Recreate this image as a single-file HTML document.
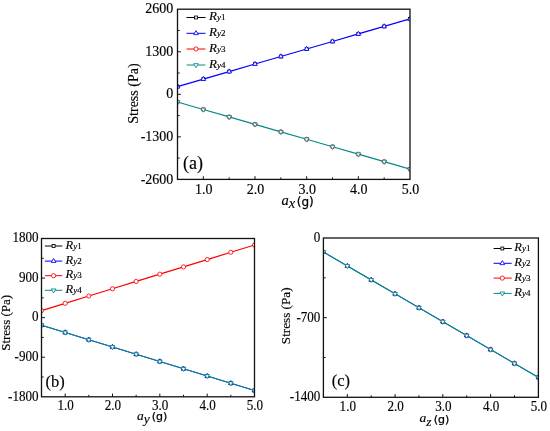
<!DOCTYPE html>
<html><head><meta charset="utf-8"><title>Stress vs acceleration</title>
<style>html,body{margin:0;padding:0;background:#fff;width:550px;height:431px;overflow:hidden}</style>
</head><body>
<svg width="550" height="431" viewBox="0 0 550 431" style="display:block;font-family:&quot;Liberation Serif&quot;,serif"><style>text{stroke:#000;stroke-width:0.15px;paint-order:stroke} text.g{stroke-width:0.25px}</style>
<rect width="550" height="431" fill="#fff"/>
<clipPath id="cpa"><rect x="177.5" y="9.2" width="232.5" height="170.20000000000002"/></clipPath>
<g clip-path="url(#cpa)">
<rect x="176.05" y="85.15" width="2.9" height="2.9" fill="#fff" stroke="#000000" stroke-width="0.85"/>
<rect x="201.88" y="77.63" width="2.9" height="2.9" fill="#fff" stroke="#000000" stroke-width="0.85"/>
<rect x="227.72" y="70.11" width="2.9" height="2.9" fill="#fff" stroke="#000000" stroke-width="0.85"/>
<rect x="253.55" y="62.58" width="2.9" height="2.9" fill="#fff" stroke="#000000" stroke-width="0.85"/>
<rect x="279.38" y="55.06" width="2.9" height="2.9" fill="#fff" stroke="#000000" stroke-width="0.85"/>
<rect x="305.22" y="47.54" width="2.9" height="2.9" fill="#fff" stroke="#000000" stroke-width="0.85"/>
<rect x="331.05" y="40.02" width="2.9" height="2.9" fill="#fff" stroke="#000000" stroke-width="0.85"/>
<rect x="356.88" y="32.49" width="2.9" height="2.9" fill="#fff" stroke="#000000" stroke-width="0.85"/>
<rect x="382.72" y="24.97" width="2.9" height="2.9" fill="#fff" stroke="#000000" stroke-width="0.85"/>
<rect x="408.55" y="17.45" width="2.9" height="2.9" fill="#fff" stroke="#000000" stroke-width="0.85"/>
<polyline fill="none" stroke="#0000ff" stroke-width="1.2" points="177.5,86.6 203.33,79.08 229.17,71.56 255,64.03 280.83,56.51 306.67,48.99 332.5,41.47 358.33,33.94 384.17,26.42 410,18.9"/>
<polygon points="177.5,83.9 179.84,87.95 175.16,87.95" fill="#fff" stroke="#0000ff" stroke-width="0.85" stroke-linejoin="round"/>
<polygon points="203.33,76.38 205.67,80.43 201,80.43" fill="#fff" stroke="#0000ff" stroke-width="0.85" stroke-linejoin="round"/>
<polygon points="229.17,68.86 231.5,72.91 226.83,72.91" fill="#fff" stroke="#0000ff" stroke-width="0.85" stroke-linejoin="round"/>
<polygon points="255,61.33 257.34,65.38 252.66,65.38" fill="#fff" stroke="#0000ff" stroke-width="0.85" stroke-linejoin="round"/>
<polygon points="280.83,53.81 283.17,57.86 278.5,57.86" fill="#fff" stroke="#0000ff" stroke-width="0.85" stroke-linejoin="round"/>
<polygon points="306.67,46.29 309,50.34 304.33,50.34" fill="#fff" stroke="#0000ff" stroke-width="0.85" stroke-linejoin="round"/>
<polygon points="332.5,38.77 334.84,42.82 330.16,42.82" fill="#fff" stroke="#0000ff" stroke-width="0.85" stroke-linejoin="round"/>
<polygon points="358.33,31.24 360.67,35.29 356,35.29" fill="#fff" stroke="#0000ff" stroke-width="0.85" stroke-linejoin="round"/>
<polygon points="384.17,23.72 386.5,27.77 381.83,27.77" fill="#fff" stroke="#0000ff" stroke-width="0.85" stroke-linejoin="round"/>
<polygon points="410,16.2 412.34,20.25 407.66,20.25" fill="#fff" stroke="#0000ff" stroke-width="0.85" stroke-linejoin="round"/>
<circle cx="177.5" cy="102" r="2.1" fill="#fff" stroke="#ff0000" stroke-width="0.85"/>
<circle cx="203.33" cy="109.46" r="2.1" fill="#fff" stroke="#ff0000" stroke-width="0.85"/>
<circle cx="229.17" cy="116.91" r="2.1" fill="#fff" stroke="#ff0000" stroke-width="0.85"/>
<circle cx="255" cy="124.37" r="2.1" fill="#fff" stroke="#ff0000" stroke-width="0.85"/>
<circle cx="280.83" cy="131.82" r="2.1" fill="#fff" stroke="#ff0000" stroke-width="0.85"/>
<circle cx="306.67" cy="139.28" r="2.1" fill="#fff" stroke="#ff0000" stroke-width="0.85"/>
<circle cx="332.5" cy="146.73" r="2.1" fill="#fff" stroke="#ff0000" stroke-width="0.85"/>
<circle cx="358.33" cy="154.19" r="2.1" fill="#fff" stroke="#ff0000" stroke-width="0.85"/>
<circle cx="384.17" cy="161.64" r="2.1" fill="#fff" stroke="#ff0000" stroke-width="0.85"/>
<circle cx="410" cy="169.1" r="2.1" fill="#fff" stroke="#ff0000" stroke-width="0.85"/>
<polyline fill="none" stroke="#088888" stroke-width="1.2" points="177.5,102 203.33,109.46 229.17,116.91 255,124.37 280.83,131.82 306.67,139.28 332.5,146.73 358.33,154.19 384.17,161.64 410,169.1"/>
<polygon points="177.5,104.7 179.84,100.65 175.16,100.65" fill="#fff" stroke="#088888" stroke-width="0.85" stroke-linejoin="round"/>
<polygon points="203.33,112.16 205.67,108.11 201,108.11" fill="#fff" stroke="#088888" stroke-width="0.85" stroke-linejoin="round"/>
<polygon points="229.17,119.61 231.5,115.56 226.83,115.56" fill="#fff" stroke="#088888" stroke-width="0.85" stroke-linejoin="round"/>
<polygon points="255,127.07 257.34,123.02 252.66,123.02" fill="#fff" stroke="#088888" stroke-width="0.85" stroke-linejoin="round"/>
<polygon points="280.83,134.52 283.17,130.47 278.5,130.47" fill="#fff" stroke="#088888" stroke-width="0.85" stroke-linejoin="round"/>
<polygon points="306.67,141.98 309,137.93 304.33,137.93" fill="#fff" stroke="#088888" stroke-width="0.85" stroke-linejoin="round"/>
<polygon points="332.5,149.43 334.84,145.38 330.16,145.38" fill="#fff" stroke="#088888" stroke-width="0.85" stroke-linejoin="round"/>
<polygon points="358.33,156.89 360.67,152.84 356,152.84" fill="#fff" stroke="#088888" stroke-width="0.85" stroke-linejoin="round"/>
<polygon points="384.17,164.34 386.5,160.29 381.83,160.29" fill="#fff" stroke="#088888" stroke-width="0.85" stroke-linejoin="round"/>
<polygon points="410,171.8 412.34,167.75 407.66,167.75" fill="#fff" stroke="#088888" stroke-width="0.85" stroke-linejoin="round"/>
</g>
<rect x="177.5" y="9.2" width="232.5" height="170.2" fill="none" stroke="#111111" stroke-width="1.3"/>
<path d="M203.33 179.4V176.2M229.17 179.4V177.4M255 179.4V176.2M280.83 179.4V177.4M306.67 179.4V176.2M332.5 179.4V177.4M358.33 179.4V176.2M384.17 179.4V177.4M177.5 30.47H179.7M177.5 73.02H179.7M177.5 115.58H179.7M177.5 158.12H179.7M177.5 51.75H180.9M177.5 94.3H180.9M177.5 136.85H180.9" stroke="#111111" stroke-width="1" fill="none"/>
<text transform="translate(173.3,13) scale(1.0,1)" text-anchor="end" font-size="14">2600</text>
<text transform="translate(173.3,55.65) scale(1.0,1)" text-anchor="end" font-size="14">1300</text>
<text transform="translate(173.3,98.3) scale(1.0,1)" text-anchor="end" font-size="14">0</text>
<text transform="translate(173.3,140.95) scale(1.0,1)" text-anchor="end" font-size="14">-1300</text>
<text transform="translate(173.3,183.6) scale(1.0,1)" text-anchor="end" font-size="14">-2600</text>
<text transform="translate(203.83,193.7) scale(1.0,1)" text-anchor="middle" font-size="14">1.0</text>
<text transform="translate(255.5,193.7) scale(1.0,1)" text-anchor="middle" font-size="14">2.0</text>
<text transform="translate(307.17,193.7) scale(1.0,1)" text-anchor="middle" font-size="14">3.0</text>
<text transform="translate(358.83,193.7) scale(1.0,1)" text-anchor="middle" font-size="14">4.0</text>
<text transform="translate(410.5,193.7) scale(1.0,1)" text-anchor="middle" font-size="14">5.0</text>
<text transform="translate(138.4,93.55) rotate(-90)" text-anchor="middle" font-size="14">Stress (Pa)</text>
<text x="281.5" y="204.7" font-size="14.5"><tspan font-style="italic">a</tspan><tspan font-style="italic" dy="3.5" font-size="14.5">x</tspan></text>
<text class="g" x="296.8" y="205.5" font-size="12" style="font-family:&quot;DejaVu Sans&quot;,&quot;Liberation Sans&quot;,sans-serif">(g)</text>
<text x="183" y="168.7" font-size="18">(a)</text>
<line x1="186.5" y1="17.5" x2="205.5" y2="17.5" stroke="#000000" stroke-width="1"/>
<rect x="194.55" y="16.05" width="2.9" height="2.9" fill="#fff" stroke="#000000" stroke-width="0.85"/>
<text x="209" y="20.2" font-size="13"><tspan font-style="italic">R</tspan><tspan font-style="italic" font-size="9">y</tspan><tspan font-size="9">1</tspan></text>
<line x1="186.5" y1="33.3" x2="205.5" y2="33.3" stroke="#0000ff" stroke-width="1"/>
<polygon points="196,30.6 198.34,34.65 193.66,34.65" fill="#fff" stroke="#0000ff" stroke-width="0.85" stroke-linejoin="round"/>
<text x="209" y="36" font-size="13"><tspan font-style="italic">R</tspan><tspan font-style="italic" font-size="9">y</tspan><tspan font-size="9">2</tspan></text>
<line x1="186.5" y1="49" x2="205.5" y2="49" stroke="#ff0000" stroke-width="1"/>
<circle cx="196" cy="49" r="2.1" fill="#fff" stroke="#ff0000" stroke-width="0.85"/>
<text x="209" y="51.7" font-size="13"><tspan font-style="italic">R</tspan><tspan font-style="italic" font-size="9">y</tspan><tspan font-size="9">3</tspan></text>
<line x1="186.5" y1="65" x2="205.5" y2="65" stroke="#088888" stroke-width="1"/>
<polygon points="196,67.7 198.34,63.65 193.66,63.65" fill="#fff" stroke="#088888" stroke-width="0.85" stroke-linejoin="round"/>
<text x="209" y="67.7" font-size="13"><tspan font-style="italic">R</tspan><tspan font-style="italic" font-size="9">y</tspan><tspan font-size="9">4</tspan></text>
<clipPath id="cpb"><rect x="41.5" y="238.5" width="213.0" height="158.3"/></clipPath>
<g clip-path="url(#cpb)">
<rect x="40.05" y="323.75" width="2.9" height="2.9" fill="#fff" stroke="#000000" stroke-width="0.85"/>
<rect x="63.72" y="331.01" width="2.9" height="2.9" fill="#fff" stroke="#000000" stroke-width="0.85"/>
<rect x="87.38" y="338.26" width="2.9" height="2.9" fill="#fff" stroke="#000000" stroke-width="0.85"/>
<rect x="111.05" y="345.52" width="2.9" height="2.9" fill="#fff" stroke="#000000" stroke-width="0.85"/>
<rect x="134.72" y="352.77" width="2.9" height="2.9" fill="#fff" stroke="#000000" stroke-width="0.85"/>
<rect x="158.38" y="360.03" width="2.9" height="2.9" fill="#fff" stroke="#000000" stroke-width="0.85"/>
<rect x="182.05" y="367.28" width="2.9" height="2.9" fill="#fff" stroke="#000000" stroke-width="0.85"/>
<rect x="205.72" y="374.54" width="2.9" height="2.9" fill="#fff" stroke="#000000" stroke-width="0.85"/>
<rect x="229.38" y="381.79" width="2.9" height="2.9" fill="#fff" stroke="#000000" stroke-width="0.85"/>
<rect x="253.05" y="389.05" width="2.9" height="2.9" fill="#fff" stroke="#000000" stroke-width="0.85"/>
<polyline fill="none" stroke="#0000ff" stroke-width="0.9" points="41.5,325.2 65.17,332.46 88.83,339.71 112.5,346.97 136.17,354.22 159.83,361.48 183.5,368.73 207.17,375.99 230.83,383.24 254.5,390.5"/>
<polygon points="41.5,322.5 43.84,326.55 39.16,326.55" fill="#fff" stroke="#0000ff" stroke-width="0.85" stroke-linejoin="round"/>
<polygon points="65.17,329.76 67.5,333.81 62.83,333.81" fill="#fff" stroke="#0000ff" stroke-width="0.85" stroke-linejoin="round"/>
<polygon points="88.83,337.01 91.17,341.06 86.5,341.06" fill="#fff" stroke="#0000ff" stroke-width="0.85" stroke-linejoin="round"/>
<polygon points="112.5,344.27 114.84,348.32 110.16,348.32" fill="#fff" stroke="#0000ff" stroke-width="0.85" stroke-linejoin="round"/>
<polygon points="136.17,351.52 138.5,355.57 133.83,355.57" fill="#fff" stroke="#0000ff" stroke-width="0.85" stroke-linejoin="round"/>
<polygon points="159.83,358.78 162.17,362.83 157.5,362.83" fill="#fff" stroke="#0000ff" stroke-width="0.85" stroke-linejoin="round"/>
<polygon points="183.5,366.03 185.84,370.08 181.16,370.08" fill="#fff" stroke="#0000ff" stroke-width="0.85" stroke-linejoin="round"/>
<polygon points="207.17,373.29 209.5,377.34 204.83,377.34" fill="#fff" stroke="#0000ff" stroke-width="0.85" stroke-linejoin="round"/>
<polygon points="230.83,380.54 233.17,384.59 228.5,384.59" fill="#fff" stroke="#0000ff" stroke-width="0.85" stroke-linejoin="round"/>
<polygon points="254.5,387.8 256.84,391.85 252.16,391.85" fill="#fff" stroke="#0000ff" stroke-width="0.85" stroke-linejoin="round"/>
<polyline fill="none" stroke="#ff0000" stroke-width="1.2" points="41.5,310.6 65.17,303.31 88.83,296.02 112.5,288.73 136.17,281.44 159.83,274.16 183.5,266.87 207.17,259.58 230.83,252.29 254.5,245"/>
<circle cx="41.5" cy="310.6" r="2.1" fill="#fff" stroke="#ff0000" stroke-width="0.85"/>
<circle cx="65.17" cy="303.31" r="2.1" fill="#fff" stroke="#ff0000" stroke-width="0.85"/>
<circle cx="88.83" cy="296.02" r="2.1" fill="#fff" stroke="#ff0000" stroke-width="0.85"/>
<circle cx="112.5" cy="288.73" r="2.1" fill="#fff" stroke="#ff0000" stroke-width="0.85"/>
<circle cx="136.17" cy="281.44" r="2.1" fill="#fff" stroke="#ff0000" stroke-width="0.85"/>
<circle cx="159.83" cy="274.16" r="2.1" fill="#fff" stroke="#ff0000" stroke-width="0.85"/>
<circle cx="183.5" cy="266.87" r="2.1" fill="#fff" stroke="#ff0000" stroke-width="0.85"/>
<circle cx="207.17" cy="259.58" r="2.1" fill="#fff" stroke="#ff0000" stroke-width="0.85"/>
<circle cx="230.83" cy="252.29" r="2.1" fill="#fff" stroke="#ff0000" stroke-width="0.85"/>
<circle cx="254.5" cy="245" r="2.1" fill="#fff" stroke="#ff0000" stroke-width="0.85"/>
<polyline fill="none" stroke="#088888" stroke-width="1.2" points="41.5,325.2 65.17,332.46 88.83,339.71 112.5,346.97 136.17,354.22 159.83,361.48 183.5,368.73 207.17,375.99 230.83,383.24 254.5,390.5"/>
<polygon points="41.5,327.9 43.84,323.85 39.16,323.85" fill="#fff" stroke="#088888" stroke-width="0.85" stroke-linejoin="round"/>
<polygon points="65.17,335.16 67.5,331.11 62.83,331.11" fill="#fff" stroke="#088888" stroke-width="0.85" stroke-linejoin="round"/>
<polygon points="88.83,342.41 91.17,338.36 86.5,338.36" fill="#fff" stroke="#088888" stroke-width="0.85" stroke-linejoin="round"/>
<polygon points="112.5,349.67 114.84,345.62 110.16,345.62" fill="#fff" stroke="#088888" stroke-width="0.85" stroke-linejoin="round"/>
<polygon points="136.17,356.92 138.5,352.87 133.83,352.87" fill="#fff" stroke="#088888" stroke-width="0.85" stroke-linejoin="round"/>
<polygon points="159.83,364.18 162.17,360.13 157.5,360.13" fill="#fff" stroke="#088888" stroke-width="0.85" stroke-linejoin="round"/>
<polygon points="183.5,371.43 185.84,367.38 181.16,367.38" fill="#fff" stroke="#088888" stroke-width="0.85" stroke-linejoin="round"/>
<polygon points="207.17,378.69 209.5,374.64 204.83,374.64" fill="#fff" stroke="#088888" stroke-width="0.85" stroke-linejoin="round"/>
<polygon points="230.83,385.94 233.17,381.89 228.5,381.89" fill="#fff" stroke="#088888" stroke-width="0.85" stroke-linejoin="round"/>
<polygon points="254.5,393.2 256.84,389.15 252.16,389.15" fill="#fff" stroke="#088888" stroke-width="0.85" stroke-linejoin="round"/>
</g>
<rect x="41.5" y="238.5" width="213" height="158.3" fill="none" stroke="#111111" stroke-width="1.3"/>
<path d="M65.17 396.8V393.6M88.83 396.8V394.8M112.5 396.8V393.6M136.17 396.8V394.8M159.83 396.8V393.6M183.5 396.8V394.8M207.17 396.8V393.6M230.83 396.8V394.8M41.5 258.29H43.7M41.5 297.86H43.7M41.5 337.44H43.7M41.5 377.01H43.7M41.5 278.07H44.9M41.5 317.65H44.9M41.5 357.23H44.9" stroke="#111111" stroke-width="1" fill="none"/>
<text transform="translate(38.6,242.1) scale(0.95,1)" text-anchor="end" font-size="13.8">1800</text>
<text transform="translate(38.6,281.75) scale(0.95,1)" text-anchor="end" font-size="13.8">900</text>
<text transform="translate(38.6,321.4) scale(0.95,1)" text-anchor="end" font-size="13.8">0</text>
<text transform="translate(38.6,361.05) scale(0.95,1)" text-anchor="end" font-size="13.8">-900</text>
<text transform="translate(38.6,400.7) scale(0.95,1)" text-anchor="end" font-size="13.8">-1800</text>
<text transform="translate(65.57,410) scale(0.95,1)" text-anchor="middle" font-size="13.8">1.0</text>
<text transform="translate(112.9,410) scale(0.95,1)" text-anchor="middle" font-size="13.8">2.0</text>
<text transform="translate(160.23,410) scale(0.95,1)" text-anchor="middle" font-size="13.8">3.0</text>
<text transform="translate(207.57,410) scale(0.95,1)" text-anchor="middle" font-size="13.8">4.0</text>
<text transform="translate(254.9,410) scale(0.95,1)" text-anchor="middle" font-size="13.8">5.0</text>
<text transform="translate(10.3,322.85) rotate(-90)" text-anchor="middle" font-size="13">Stress (Pa)</text>
<text x="137" y="419.5" font-size="13.5"><tspan font-style="italic">a</tspan><tspan font-style="italic" dy="3.5" font-size="13.5">y</tspan></text>
<text class="g" x="151.8" y="420.4" font-size="11" style="font-family:&quot;DejaVu Sans&quot;,&quot;Liberation Sans&quot;,sans-serif">(g)</text>
<text x="45.5" y="387.2" font-size="16.5">(b)</text>
<line x1="44.9" y1="246" x2="62.3" y2="246" stroke="#000000" stroke-width="1"/>
<rect x="52.15" y="244.55" width="2.9" height="2.9" fill="#fff" stroke="#000000" stroke-width="0.85"/>
<text x="65.5" y="248.7" font-size="12.5"><tspan font-style="italic">R</tspan><tspan font-style="italic" font-size="9">y</tspan><tspan font-size="9">1</tspan></text>
<line x1="44.9" y1="261.1" x2="62.3" y2="261.1" stroke="#0000ff" stroke-width="1"/>
<polygon points="53.6,258.4 55.94,262.45 51.26,262.45" fill="#fff" stroke="#0000ff" stroke-width="0.85" stroke-linejoin="round"/>
<text x="65.5" y="263.8" font-size="12.5"><tspan font-style="italic">R</tspan><tspan font-style="italic" font-size="9">y</tspan><tspan font-size="9">2</tspan></text>
<line x1="44.9" y1="275.7" x2="62.3" y2="275.7" stroke="#ff0000" stroke-width="1"/>
<circle cx="53.6" cy="275.7" r="2.1" fill="#fff" stroke="#ff0000" stroke-width="0.85"/>
<text x="65.5" y="278.4" font-size="12.5"><tspan font-style="italic">R</tspan><tspan font-style="italic" font-size="9">y</tspan><tspan font-size="9">3</tspan></text>
<line x1="44.9" y1="290.3" x2="62.3" y2="290.3" stroke="#088888" stroke-width="1"/>
<polygon points="53.6,293 55.94,288.95 51.26,288.95" fill="#fff" stroke="#088888" stroke-width="0.85" stroke-linejoin="round"/>
<text x="65.5" y="293" font-size="12.5"><tspan font-style="italic">R</tspan><tspan font-style="italic" font-size="9">y</tspan><tspan font-size="9">4</tspan></text>
<clipPath id="cpc"><rect x="323.4" y="238" width="215.0" height="159.3"/></clipPath>
<g clip-path="url(#cpc)">
<rect x="321.95" y="250.55" width="2.9" height="2.9" fill="#fff" stroke="#000000" stroke-width="0.85"/>
<rect x="345.84" y="264.48" width="2.9" height="2.9" fill="#fff" stroke="#000000" stroke-width="0.85"/>
<rect x="369.73" y="278.42" width="2.9" height="2.9" fill="#fff" stroke="#000000" stroke-width="0.85"/>
<rect x="393.62" y="292.35" width="2.9" height="2.9" fill="#fff" stroke="#000000" stroke-width="0.85"/>
<rect x="417.51" y="306.28" width="2.9" height="2.9" fill="#fff" stroke="#000000" stroke-width="0.85"/>
<rect x="441.39" y="320.22" width="2.9" height="2.9" fill="#fff" stroke="#000000" stroke-width="0.85"/>
<rect x="465.28" y="334.15" width="2.9" height="2.9" fill="#fff" stroke="#000000" stroke-width="0.85"/>
<rect x="489.17" y="348.08" width="2.9" height="2.9" fill="#fff" stroke="#000000" stroke-width="0.85"/>
<rect x="513.06" y="362.02" width="2.9" height="2.9" fill="#fff" stroke="#000000" stroke-width="0.85"/>
<rect x="536.95" y="375.95" width="2.9" height="2.9" fill="#fff" stroke="#000000" stroke-width="0.85"/>
<polyline fill="none" stroke="#0000ff" stroke-width="0.9" points="323.4,252 347.29,265.93 371.18,279.87 395.07,293.8 418.96,307.73 442.84,321.67 466.73,335.6 490.62,349.53 514.51,363.47 538.4,377.4"/>
<polygon points="323.4,249.3 325.74,253.35 321.06,253.35" fill="#fff" stroke="#0000ff" stroke-width="0.85" stroke-linejoin="round"/>
<polygon points="347.29,263.23 349.63,267.28 344.95,267.28" fill="#fff" stroke="#0000ff" stroke-width="0.85" stroke-linejoin="round"/>
<polygon points="371.18,277.17 373.52,281.22 368.84,281.22" fill="#fff" stroke="#0000ff" stroke-width="0.85" stroke-linejoin="round"/>
<polygon points="395.07,291.1 397.4,295.15 392.73,295.15" fill="#fff" stroke="#0000ff" stroke-width="0.85" stroke-linejoin="round"/>
<polygon points="418.96,305.03 421.29,309.08 416.62,309.08" fill="#fff" stroke="#0000ff" stroke-width="0.85" stroke-linejoin="round"/>
<polygon points="442.84,318.97 445.18,323.02 440.51,323.02" fill="#fff" stroke="#0000ff" stroke-width="0.85" stroke-linejoin="round"/>
<polygon points="466.73,332.9 469.07,336.95 464.4,336.95" fill="#fff" stroke="#0000ff" stroke-width="0.85" stroke-linejoin="round"/>
<polygon points="490.62,346.83 492.96,350.88 488.28,350.88" fill="#fff" stroke="#0000ff" stroke-width="0.85" stroke-linejoin="round"/>
<polygon points="514.51,360.77 516.85,364.82 512.17,364.82" fill="#fff" stroke="#0000ff" stroke-width="0.85" stroke-linejoin="round"/>
<polygon points="538.4,374.7 540.74,378.75 536.06,378.75" fill="#fff" stroke="#0000ff" stroke-width="0.85" stroke-linejoin="round"/>
<circle cx="323.4" cy="252" r="1.6" fill="#fff" stroke="#ff0000" stroke-width="0.85"/>
<circle cx="347.29" cy="265.93" r="1.6" fill="#fff" stroke="#ff0000" stroke-width="0.85"/>
<circle cx="371.18" cy="279.87" r="1.6" fill="#fff" stroke="#ff0000" stroke-width="0.85"/>
<circle cx="395.07" cy="293.8" r="1.6" fill="#fff" stroke="#ff0000" stroke-width="0.85"/>
<circle cx="418.96" cy="307.73" r="1.6" fill="#fff" stroke="#ff0000" stroke-width="0.85"/>
<circle cx="442.84" cy="321.67" r="1.6" fill="#fff" stroke="#ff0000" stroke-width="0.85"/>
<circle cx="466.73" cy="335.6" r="1.6" fill="#fff" stroke="#ff0000" stroke-width="0.85"/>
<circle cx="490.62" cy="349.53" r="1.6" fill="#fff" stroke="#ff0000" stroke-width="0.85"/>
<circle cx="514.51" cy="363.47" r="1.6" fill="#fff" stroke="#ff0000" stroke-width="0.85"/>
<circle cx="538.4" cy="377.4" r="1.6" fill="#fff" stroke="#ff0000" stroke-width="0.85"/>
<polyline fill="none" stroke="#088888" stroke-width="1.2" points="323.4,252 347.29,265.93 371.18,279.87 395.07,293.8 418.96,307.73 442.84,321.67 466.73,335.6 490.62,349.53 514.51,363.47 538.4,377.4"/>
<polygon points="323.4,254.7 325.74,250.65 321.06,250.65" fill="#fff" stroke="#088888" stroke-width="0.85" stroke-linejoin="round"/>
<polygon points="347.29,268.63 349.63,264.58 344.95,264.58" fill="#fff" stroke="#088888" stroke-width="0.85" stroke-linejoin="round"/>
<polygon points="371.18,282.57 373.52,278.52 368.84,278.52" fill="#fff" stroke="#088888" stroke-width="0.85" stroke-linejoin="round"/>
<polygon points="395.07,296.5 397.4,292.45 392.73,292.45" fill="#fff" stroke="#088888" stroke-width="0.85" stroke-linejoin="round"/>
<polygon points="418.96,310.43 421.29,306.38 416.62,306.38" fill="#fff" stroke="#088888" stroke-width="0.85" stroke-linejoin="round"/>
<polygon points="442.84,324.37 445.18,320.32 440.51,320.32" fill="#fff" stroke="#088888" stroke-width="0.85" stroke-linejoin="round"/>
<polygon points="466.73,338.3 469.07,334.25 464.4,334.25" fill="#fff" stroke="#088888" stroke-width="0.85" stroke-linejoin="round"/>
<polygon points="490.62,352.23 492.96,348.18 488.28,348.18" fill="#fff" stroke="#088888" stroke-width="0.85" stroke-linejoin="round"/>
<polygon points="514.51,366.17 516.85,362.12 512.17,362.12" fill="#fff" stroke="#088888" stroke-width="0.85" stroke-linejoin="round"/>
<polygon points="538.4,380.1 540.74,376.05 536.06,376.05" fill="#fff" stroke="#088888" stroke-width="0.85" stroke-linejoin="round"/>
</g>
<rect x="323.4" y="238" width="215" height="159.3" fill="none" stroke="#111111" stroke-width="1.3"/>
<path d="M347.29 397.3V394.1M371.18 397.3V395.3M395.07 397.3V394.1M418.96 397.3V395.3M442.84 397.3V394.1M466.73 397.3V395.3M490.62 397.3V394.1M514.51 397.3V395.3M323.4 277.82H325.6M323.4 357.48H325.6M323.4 317.65H326.8" stroke="#111111" stroke-width="1" fill="none"/>
<text transform="translate(320.4,241.8) scale(0.95,1)" text-anchor="end" font-size="13.8">0</text>
<text transform="translate(320.4,321.6) scale(0.95,1)" text-anchor="end" font-size="13.8">-700</text>
<text transform="translate(320.4,401.4) scale(0.95,1)" text-anchor="end" font-size="13.8">-1400</text>
<text transform="translate(347.79,410.9) scale(0.95,1)" text-anchor="middle" font-size="13.8">1.0</text>
<text transform="translate(395.57,410.9) scale(0.95,1)" text-anchor="middle" font-size="13.8">2.0</text>
<text transform="translate(443.34,410.9) scale(0.95,1)" text-anchor="middle" font-size="13.8">3.0</text>
<text transform="translate(491.12,410.9) scale(0.95,1)" text-anchor="middle" font-size="13.8">4.0</text>
<text transform="translate(538.9,410.9) scale(0.95,1)" text-anchor="middle" font-size="13.8">5.0</text>
<text transform="translate(289.6,315.8) rotate(-90)" text-anchor="middle" font-size="13.2">Stress (Pa)</text>
<text x="419.5" y="422.3" font-size="13.5"><tspan font-style="italic">a</tspan><tspan font-style="italic" dy="3.5" font-size="13.5">z</tspan></text>
<text class="g" x="433.8" y="422.5" font-size="11" style="font-family:&quot;DejaVu Sans&quot;,&quot;Liberation Sans&quot;,sans-serif">(g)</text>
<text x="331.8" y="386.4" font-size="16.5">(c)</text>
<line x1="493.6" y1="248.5" x2="511.7" y2="248.5" stroke="#000000" stroke-width="1"/>
<rect x="500.85" y="247.05" width="2.9" height="2.9" fill="#fff" stroke="#000000" stroke-width="0.85"/>
<text x="514.3" y="251.2" font-size="12.5"><tspan font-style="italic">R</tspan><tspan font-style="italic" font-size="9">y</tspan><tspan font-size="9">1</tspan></text>
<line x1="493.6" y1="263.3" x2="511.7" y2="263.3" stroke="#0000ff" stroke-width="1"/>
<polygon points="502.3,260.6 504.64,264.65 499.96,264.65" fill="#fff" stroke="#0000ff" stroke-width="0.85" stroke-linejoin="round"/>
<text x="514.3" y="266" font-size="12.5"><tspan font-style="italic">R</tspan><tspan font-style="italic" font-size="9">y</tspan><tspan font-size="9">2</tspan></text>
<line x1="493.6" y1="278.1" x2="511.7" y2="278.1" stroke="#ff0000" stroke-width="1"/>
<circle cx="502.3" cy="278.1" r="2.1" fill="#fff" stroke="#ff0000" stroke-width="0.85"/>
<text x="514.3" y="280.8" font-size="12.5"><tspan font-style="italic">R</tspan><tspan font-style="italic" font-size="9">y</tspan><tspan font-size="9">3</tspan></text>
<line x1="493.6" y1="293.4" x2="511.7" y2="293.4" stroke="#088888" stroke-width="1"/>
<polygon points="502.3,296.1 504.64,292.05 499.96,292.05" fill="#fff" stroke="#088888" stroke-width="0.85" stroke-linejoin="round"/>
<text x="514.3" y="296.1" font-size="12.5"><tspan font-style="italic">R</tspan><tspan font-style="italic" font-size="9">y</tspan><tspan font-size="9">4</tspan></text>
</svg>
</body></html>
